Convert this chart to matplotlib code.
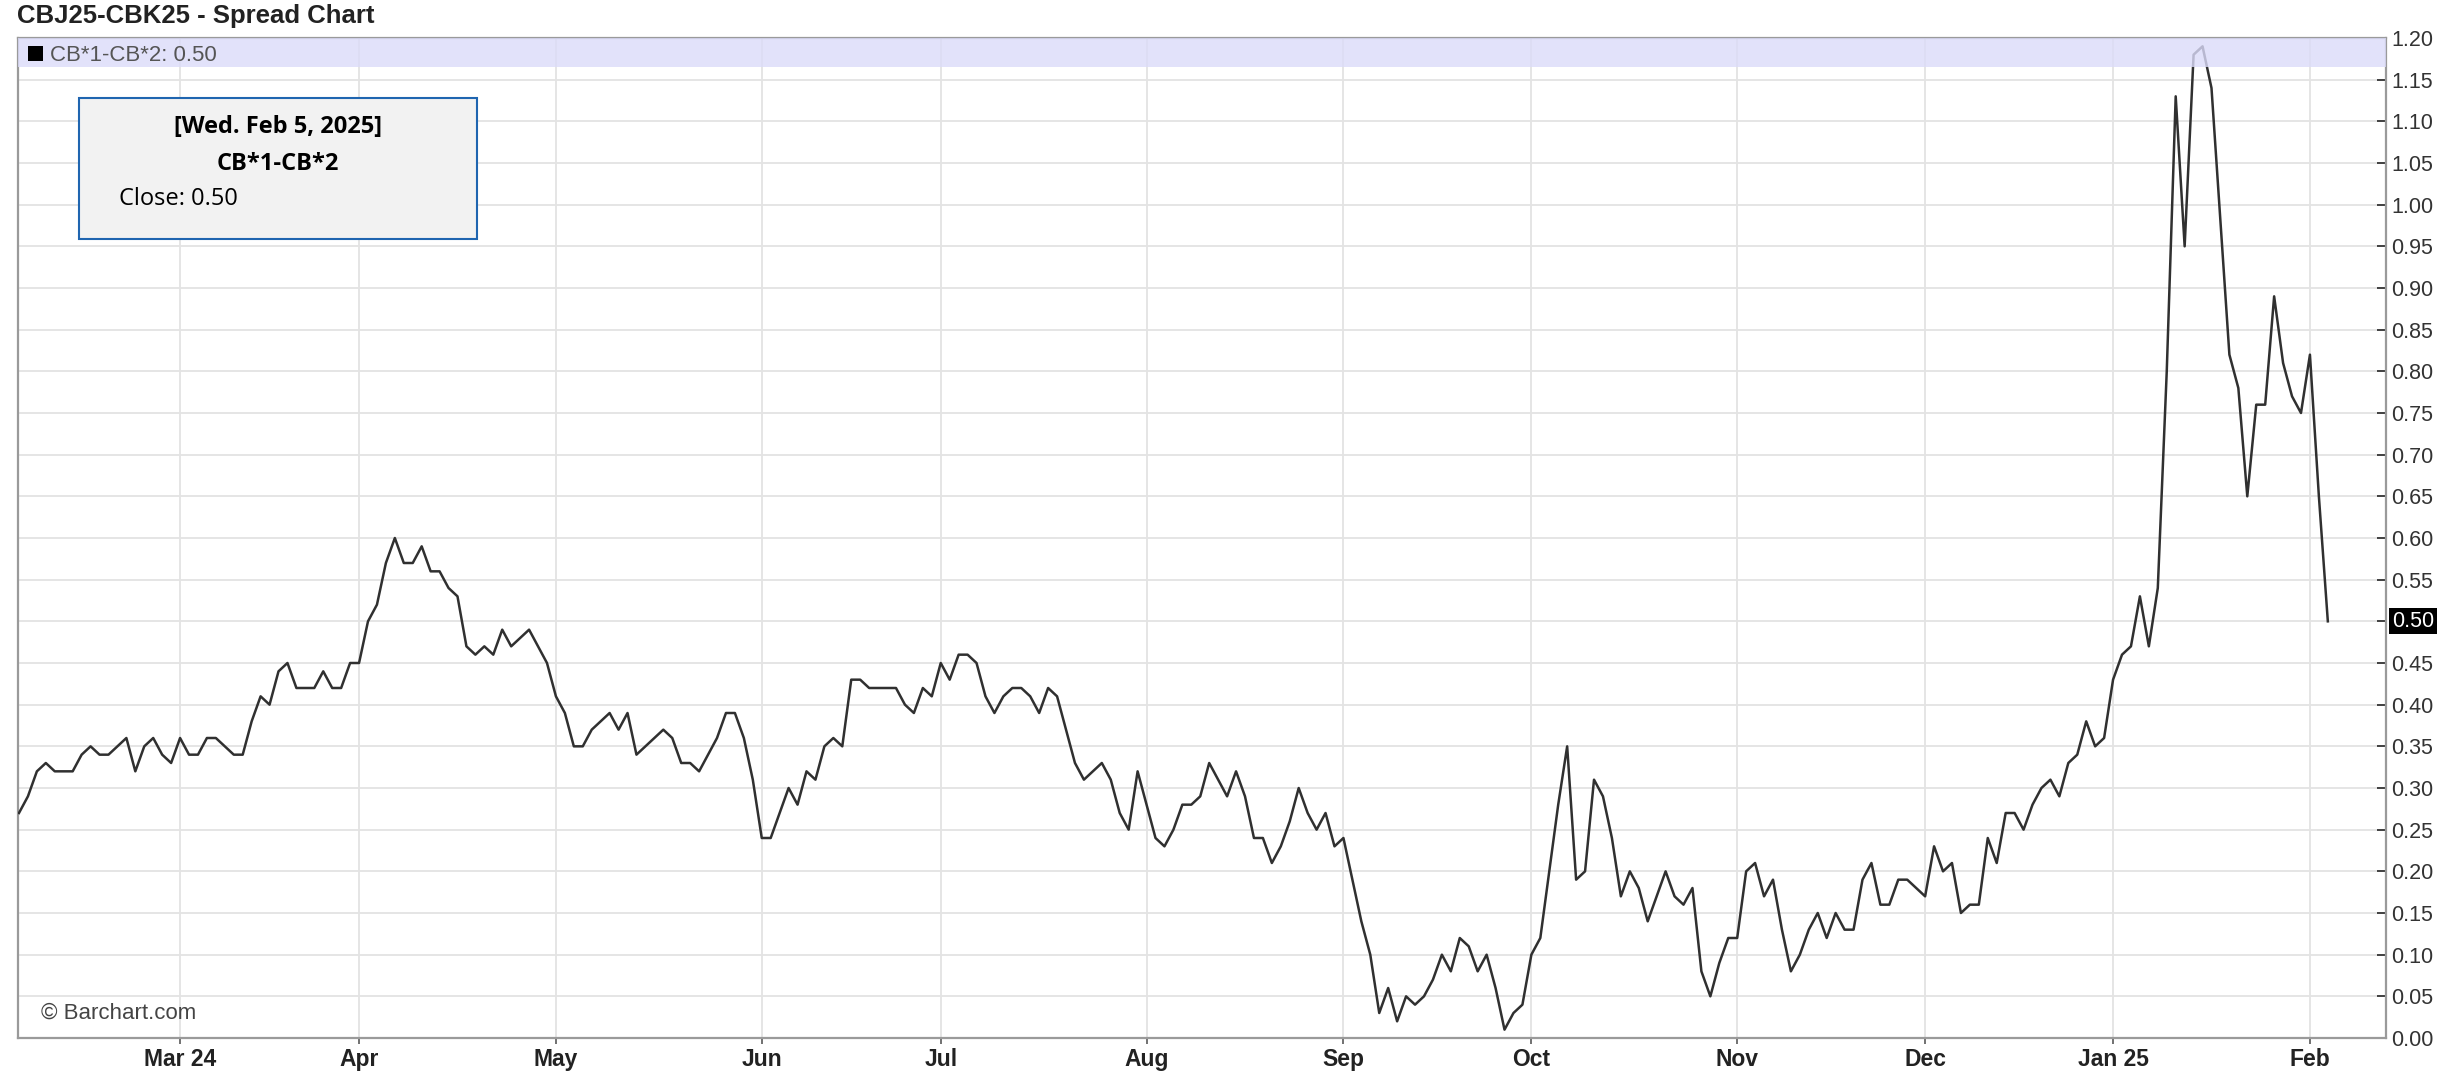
import matplotlib
matplotlib.use("Agg")
import matplotlib.pyplot as plt
from matplotlib.patches import Rectangle
from matplotlib.ticker import FixedLocator, FuncFormatter
import numpy as np

# ---------------- data ----------------
chart_title = "CBJ25-CBK25 - Spread Chart"
series_name = "CB*1-CB*2"
last_date_label = "[Wed. Feb 5, 2025]"

feb24 = [0.27, 0.29, 0.32, 0.33, 0.32, 0.32, 0.32, 0.34, 0.35, 0.34, 0.34, 0.35,
         0.36, 0.32, 0.35, 0.36, 0.34, 0.33]
mar24 = [0.36, 0.34, 0.34, 0.36, 0.36, 0.35, 0.34, 0.34, 0.38, 0.41, 0.40, 0.44,
         0.45, 0.42, 0.42, 0.42, 0.44, 0.42, 0.42, 0.45]
apr24 = [0.45, 0.50, 0.52, 0.57, 0.60, 0.57, 0.57, 0.59, 0.56, 0.56, 0.54, 0.53,
         0.47, 0.46, 0.47, 0.46, 0.49, 0.47, 0.48, 0.49, 0.47, 0.45]
may24 = [0.41, 0.39, 0.35, 0.35, 0.37, 0.38, 0.39, 0.37, 0.39, 0.34, 0.35, 0.36,
         0.37, 0.36, 0.33, 0.33, 0.32, 0.34, 0.36, 0.39, 0.39, 0.36, 0.31]
jun24 = [0.24, 0.24, 0.27, 0.30, 0.28, 0.32, 0.31, 0.35, 0.36, 0.35, 0.43, 0.43,
         0.42, 0.42, 0.42, 0.42, 0.40, 0.39, 0.42, 0.41]
jul24 = [0.45, 0.43, 0.46, 0.46, 0.45, 0.41, 0.39, 0.41, 0.42, 0.42, 0.41, 0.39,
         0.42, 0.41, 0.37, 0.33, 0.31, 0.32, 0.33, 0.31, 0.27, 0.25, 0.32]
aug24 = [0.28, 0.24, 0.23, 0.25, 0.28, 0.28, 0.29, 0.33, 0.31, 0.29, 0.32, 0.29,
         0.24, 0.24, 0.21, 0.23, 0.26, 0.30, 0.27, 0.25, 0.27, 0.23]
sep24 = [0.24, 0.19, 0.14, 0.10, 0.03, 0.06, 0.02, 0.05, 0.04, 0.05, 0.07, 0.10,
         0.08, 0.12, 0.11, 0.08, 0.10, 0.06, 0.01, 0.03, 0.04]
oct24 = [0.10, 0.12, 0.20, 0.28, 0.35, 0.19, 0.20, 0.31, 0.29, 0.24, 0.17, 0.20,
         0.18, 0.14, 0.17, 0.20, 0.17, 0.16, 0.18, 0.08, 0.05, 0.09, 0.12]
nov24 = [0.12, 0.20, 0.21, 0.17, 0.19, 0.13, 0.08, 0.10, 0.13, 0.15, 0.12, 0.15,
         0.13, 0.13, 0.19, 0.21, 0.16, 0.16, 0.19, 0.19, 0.18]
dec24 = [0.17, 0.23, 0.20, 0.21, 0.15, 0.16, 0.16, 0.24, 0.21, 0.27, 0.27, 0.25,
         0.28, 0.30, 0.31, 0.29, 0.33, 0.34, 0.38, 0.35, 0.36]
jan25 = [0.43, 0.46, 0.47, 0.53, 0.47, 0.54, 0.80, 1.13, 0.95, 1.18, 1.19, 1.14,
         0.98, 0.82, 0.78, 0.65, 0.76, 0.76, 0.89, 0.81, 0.77, 0.75]
feb25 = [0.82, 0.65, 0.50]

close_values = (feb24 + mar24 + apr24 + may24 + jun24 + jul24 + aug24 + sep24
                + oct24 + nov24 + dec24 + jan25 + feb25)

month_labels = ["Mar 24", "Apr", "May", "Jun", "Jul", "Aug", "Sep", "Oct",
                "Nov", "Dec", "Jan 25", "Feb"]
month_start_index = [18, 38, 60, 83, 103, 126, 148, 169, 192, 213, 234, 256]
y_ticks = [round(0.05 * k, 2) for k in range(25)]
last_close = close_values[-1]

# ---------------- figure ----------------
W, H = 2464, 1092
fig = plt.figure(figsize=(W / 100, H / 100), dpi=100, facecolor="white")
L, R, T, B = 18, 2386, 38, 1038
ax = fig.add_axes([L / W, 1 - B / H, (R - L) / W, (B - T) / H])

def axx(px):
    return (px - L) / (R - L)

def axy(py):
    return 1 - (py - T) / (B - T)

narrow = ["Liberation Sans Narrow", "Liberation Sans", "DejaVu Sans"]
arial = ["Liberation Sans", "DejaVu Sans"]
opensans = ["Open Sans", "DejaVu Sans"]

x = np.arange(len(close_values))
ax.plot(x, close_values, color="#303030", lw=1.8, zorder=3)

ax.set_xlim(-0.11, 264.5)
ax.set_ylim(0, 1.2)

ax.xaxis.set_major_locator(FixedLocator(month_start_index))
ax.set_xticklabels(month_labels, family=narrow, fontweight="bold")
ax.yaxis.set_major_locator(FixedLocator(y_ticks))
ax.yaxis.set_major_formatter(FuncFormatter(
    lambda v, p: "" if abs(v - last_close) < 1e-9 else f"{v:.2f}"))
ax.yaxis.tick_right()
for lab in ax.get_yticklabels():
    lab.set_family(arial)

ax.tick_params(axis="y", direction="in", length=6.5, width=1.3, color="#333333",
               pad=4, labelsize=15.5, labelcolor="#333333")
ax.tick_params(axis="x", direction="out", length=4, width=1.3, color="#666666",
               pad=3, labelsize=16.5, labelcolor="#222222")

ax.grid(True, color="#e3e3e3", lw=1.3, zorder=0)
ax.set_axisbelow(True)
for s in ax.spines.values():
    s.set_color("#9a9a9a")
    s.set_linewidth(1.6)

# legend band (translucent, above the line)
ax.add_patch(Rectangle((0, axy(67)), 1, 1 - axy(67), transform=ax.transAxes,
                       facecolor=(219 / 255, 219 / 255, 249 / 255), alpha=0.8,
                       edgecolor="none", zorder=5))
ax.add_patch(Rectangle((axx(28), axy(61)), axx(43) - axx(28), axy(46) - axy(61),
                       transform=ax.transAxes, facecolor="black",
                       edgecolor="none", zorder=6))
ax.text(axx(50), axy(61), f"{series_name}: {last_close:.2f}", transform=ax.transAxes,
        ha="left", va="baseline", fontsize=16, color="#555555", family=arial,
        zorder=6)

# info box
ax.add_patch(Rectangle((axx(79), axy(239)), axx(477) - axx(79), axy(98) - axy(239),
                       transform=ax.transAxes, facecolor="#f2f2f2",
                       edgecolor="#1f65b0", lw=1.5, zorder=7))
cx = axx(278)
ax.text(cx, axy(133), last_date_label, transform=ax.transAxes, ha="center",
        va="baseline", fontsize=17, fontweight="bold", color="black",
        family=opensans, zorder=8)
ax.text(cx, axy(170), series_name, transform=ax.transAxes, ha="center",
        va="baseline", fontsize=17, fontweight="bold", color="black",
        family=opensans, zorder=8)
ax.text(axx(119), axy(205), f"Close: {last_close:.2f}", transform=ax.transAxes,
        ha="left", va="baseline", fontsize=17, color="black",
        family=opensans, zorder=8)

# copyright
ax.text(axx(41), axy(1019), "\u00a9 Barchart.com", transform=ax.transAxes,
        ha="left", va="baseline", fontsize=16, color="#444444", family=narrow,
        zorder=8)

# last value marker on the price axis
ax.text(1 + 6 / (R - L), last_close, f"{last_close:.2f}",
        transform=ax.get_yaxis_transform(), ha="left", va="center",
        fontsize=15.5, color="white", family=arial, clip_on=False, zorder=9,
        bbox=dict(boxstyle="square,pad=0.12", facecolor="black", edgecolor="none"))

# title
fig.text(17 / W, 1 - 23.5 / H, chart_title, ha="left", va="baseline",
         fontsize=18.5, fontweight="bold", color="#222222", family=arial)

fig.savefig("out.png", dpi=100, facecolor="white")
